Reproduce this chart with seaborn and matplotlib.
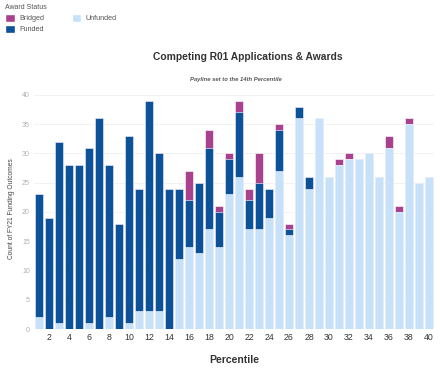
import numpy as np
import pandas as pd
import matplotlib
matplotlib.use("Agg")
import matplotlib.pyplot as plt
from matplotlib.patches import Patch
import seaborn as sns

# data
percentiles = list(range(1, 41))
unfunded = [2, 0, 1, 0, 0, 1, 0, 2, 0, 1, 3, 3, 3, 0, 12, 14, 13, 17, 14, 23,
            26, 17, 17, 19, 27, 16, 36, 24, 36, 26, 28, 29, 29, 30, 26, 31, 20, 35, 25, 26]
funded = [21, 19, 31, 28, 28, 30, 36, 26, 18, 32, 21, 36, 27, 24, 12, 8, 12, 14, 6, 6,
          11, 5, 8, 5, 7, 1, 2, 2, 0, 0, 0, 0, 0, 0, 0, 0, 0, 0, 0, 0]
bridged = [0, 0, 0, 0, 0, 0, 0, 0, 0, 0, 0, 0, 0, 0, 0, 5, 0, 3, 1, 1,
           2, 2, 5, 0, 1, 1, 0, 0, 0, 0, 1, 1, 0, 0, 0, 2, 1, 1, 0, 0]

c_bridged = "#A8428F"
c_funded = "#0B5299"
c_unfunded = "#C6E1F8"

df = pd.DataFrame({"pct": percentiles, "Unfunded": unfunded,
                   "Funded": funded, "Bridged": bridged})
df["lvl_unf"] = df["Unfunded"]
df["lvl_fun"] = df["Unfunded"] + df["Funded"]
df["lvl_all"] = df["lvl_fun"] + df["Bridged"]

sns.set_theme(style="white")
plt.rcParams["font.family"] = ["Liberation Sans", "DejaVu Sans"]

fig = plt.figure(figsize=(4.4, 3.76), dpi=100)
ax = fig.add_axes([34 / 440, 47 / 376, 400 / 440, 240 / 376])

order = percentiles
for col, c in [("lvl_all", c_bridged), ("lvl_fun", c_funded), ("lvl_unf", c_unfunded)]:
    sns.barplot(data=df, x="pct", y=col, order=order, color=c, width=0.82,
                edgecolor="white", linewidth=0.4, saturation=1, ax=ax)

ax.set_ylim(0, 41)
ax.set_xlim(-0.5, 39.5)
ax.set_yticks(range(0, 41, 5))
ax.set_xticks(range(1, 40, 2))
ax.set_xticklabels([str(p) for p in range(2, 41, 2)])
ax.tick_params(axis="x", labelsize=6.3, colors="#333333", length=0, pad=3)
ax.tick_params(axis="y", labelsize=5, colors="#b0b0b0", length=0, pad=3)
ax.grid(axis="y", color="#f0f0f0", linewidth=0.6)
ax.set_axisbelow(True)
for s in ax.spines.values():
    s.set_visible(False)

ax.set_xlabel("Percentile", fontsize=7.5, fontweight="bold", color="#333333", labelpad=9)
ax.set_ylabel("Count of FY21 Funding Outcomes", fontsize=4.8, color="#444444", labelpad=5)

fig.text(0.564, 1 - 57 / 376, "Competing R01 Applications & Awards", ha="center",
         va="center", fontsize=7.4, fontweight="bold", color="#333333")
fig.text(0.535, 1 - 79 / 376, "Payline set to the 14th Percentile", ha="center",
         va="center", fontsize=4.2, fontstyle="italic", fontweight="bold", color="#555555")

handles = [Patch(facecolor=c_bridged, label="Bridged"),
           Patch(facecolor=c_funded, label="Funded"),
           Patch(facecolor=c_unfunded, label="Unfunded")]
leg = fig.legend(handles=handles, title="Award Status", ncol=2, loc="upper left",
                 bbox_to_anchor=(0.002, 1.0), frameon=False, fontsize=5.2,
                 title_fontsize=5.0, handlelength=1.35, handleheight=1.35,
                 handletextpad=0.6, columnspacing=3.8, labelspacing=0.35,
                 borderpad=0.1, alignment="left")
for t in leg.get_texts():
    t.set_color("#555555")
leg.get_title().set_color("#555555")

fig.savefig("out.png", dpi=100)
